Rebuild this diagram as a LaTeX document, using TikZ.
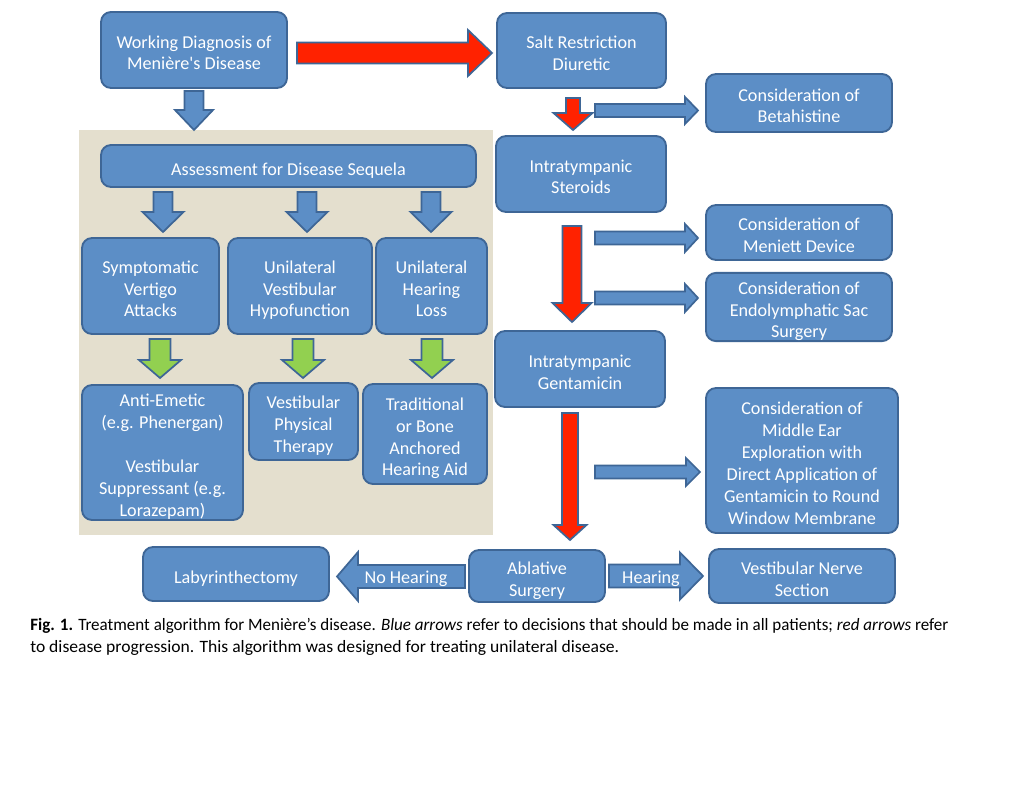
\documentclass[tikz,border=0pt]{standalone}
\usepackage{fontspec}
\setmainfont{Carlito}
\usepackage{graphicx}
\definecolor{boxc}{RGB}{92,142,198}
\definecolor{bordc}{RGB}{62,102,150}
\definecolor{redc}{RGB}{255,34,0}
\definecolor{greenc}{RGB}{146,208,80}
\definecolor{beigec}{RGB}{228,223,206}
\newcommand\bxf{\fontsize{13.6}{16.4}\selectfont}
\newcommand\capf{\fontsize{13}{16}\selectfont}
\newcommand\lnst{\rule[-1.4pt]{0pt}{16.4pt}}
\newcommand\txl[1]{\lnst\smash{#1}}
\tikzset{
  box/.style={draw=bordc, line width=1.4pt, fill=boxc, rounded corners=7.5pt,
    text=white, align=center, font=\bxf, inner sep=1pt},
  arrline/.style={draw=bordc, line width=1.3pt, line join=miter},
  arrlabel/.style={text=white, font=\bxf, inner sep=0pt},
}
\newcommand\mkbox[6]{\node[box, minimum width={(#4-#2)*0.75pt}, minimum height={(#5-#3)*0.75pt}] (#1) at ({(#2+#4)/2},{(#3+#5)/2}) {#6};}
\newcommand\varr[7]{\draw[arrline, fill=#7] ({#1-#5},#2) -- ({#1+#5},#2) -- ({#1+#5},#3) -- ({#1+#6},#3) -- (#1,#4) -- ({#1-#6},#3) -- ({#1-#5},#3) -- cycle;}
\newcommand\harr[7]{\draw[arrline, fill=#7] (#2,{#1-#5}) -- (#3,{#1-#5}) -- (#3,{#1-#6}) -- (#4,#1) -- (#3,{#1+#6}) -- (#3,{#1+#5}) -- (#2,{#1+#5}) -- cycle;}
\begin{document}
\begin{tikzpicture}[x=0.75pt,y=-0.75pt]
\useasboundingbox[fill=white] (0,0) rectangle (1024,806);
% beige background
\fill[beigec] (79,130) rectangle (493,535);
% boxes
\mkbox{work}{101}{12}{287}{88}{\txl{Working Diagnosis of}\\\txl{Meni\`ere\textquotesingle s Disease}}
\mkbox{salt}{497}{13}{666}{88}{\txl{Salt Restriction}\\\txl{Diuretic}}
\mkbox{beta}{706}{74}{892}{132}{\txl{Consideration of}\\\txl{Betahistine}}
\mkbox{ster}{496}{136}{666}{212}{\txl{Intratympanic}\\\txl{Steroids}}
\mkbox{meni}{706}{205}{892}{260}{\txl{Consideration of}\\\txl{Meniett Device}}
\mkbox{endo}{706}{273}{892}{341}{\txl{Consideration of}\\\txl{Endolymphatic Sac}\\\txl{Surgery}}
\mkbox{gent}{495}{331}{665}{407}{\txl{Intratympanic}\\\txl{Gentamicin}}
\mkbox{midd}{706}{388}{898}{533}{\txl{Consideration of}\\\txl{Middle Ear}\\\txl{Exploration with}\\\txl{Direct Application of}\\\txl{Gentamicin to Round}\\\txl{Window Membrane}}
\mkbox{assess}{101}{145}{476}{187}{\txl{Assessment for Disease Sequela}}
\mkbox{symp}{82}{238}{219}{334}{\txl{Symptomatic}\\\txl{Vertigo}\\\txl{Attacks}}
\mkbox{uvh}{228}{238}{372}{334}{\txl{Unilateral}\\\txl{Vestibular}\\\txl{Hypofunction}}
\mkbox{uhl}{376}{238}{487}{334}{\txl{Unilateral}\\\txl{Hearing}\\\txl{Loss}}
\mkbox{anti}{82}{385}{243}{520}{\txl{Anti-Emetic}\\\txl{(e.g. Phenergan)}\\\txl{~}\\\txl{Vestibular}\\\txl{Suppressant (e.g.}\\\txl{Lorazepam)}}
\mkbox{vpt}{249}{383}{358}{460}{\txl{Vestibular}\\\txl{Physical}\\\txl{Therapy}}
\mkbox{trad}{363}{384}{487}{484}{\txl{Traditional}\\\txl{or Bone}\\\txl{Anchored}\\\txl{Hearing Aid}}
\mkbox{laby}{143}{547}{329}{601}{\txl{Labyrinthectomy}}
\mkbox{abl}{469}{550}{605}{602}{\txl{Ablative}\\\txl{Surgery}}
\mkbox{vns}{709}{549}{895}{603}{\txl{Vestibular Nerve}\\\txl{Section}}
% red arrows
\harr{53}{297}{468}{492}{10.5}{23}{redc}
\varr{573}{98}{113}{130}{7}{19.5}{redc}
\varr{572}{226}{303}{322}{9.5}{19.5}{redc}
\varr{570}{413}{525}{540}{8}{16.5}{redc}
% blue arrows
\varr{194}{91}{110}{130}{9.5}{19}{boxc}
\varr{163}{192}{212}{232}{9.5}{20.5}{boxc}
\varr{307}{192}{212}{232}{9.5}{20.5}{boxc}
\varr{431}{192}{212}{232}{9.5}{20.5}{boxc}
\harr{110.5}{595}{685}{698}{6.5}{13.5}{boxc}
\harr{238}{595}{685}{698}{6.5}{14}{boxc}
\harr{298}{595}{685}{698}{6.5}{14}{boxc}
\harr{472}{595}{686}{700}{6.5}{14}{boxc}
\harr{576.5}{465}{358}{337}{11.5}{24.5}{boxc}
\harr{576}{609}{680}{703}{11.5}{23.5}{boxc}
% green arrows
\varr{160}{339}{360}{378}{10.5}{21}{greenc}
\varr{303}{339}{360}{378}{10.5}{21}{greenc}
\varr{432}{339}{360}{378}{10.5}{21}{greenc}
% arrow labels
\node[arrlabel] (nohear) at (406,574) {\txl{No Hearing}};
\node[arrlabel] (hear) at (651,574) {\txl{Hearing}};
% caption
\node[anchor=base west, inner sep=0pt, font=\capf] (cap1) at (30,630) {\resizebox{688.5pt}{\height}{\textbf{Fig. 1.} Treatment algorithm for Meni\`ere’s disease. \textit{Blue arrows} refer to decisions that should be made in all patients; \textit{red arrows} refer}};
\node[anchor=base west, inner sep=0pt, font=\capf] (cap2) at (30,652) {\resizebox{441.75pt}{\height}{to disease progression. This algorithm was designed for treating unilateral disease.}};
\end{tikzpicture}
\end{document}
